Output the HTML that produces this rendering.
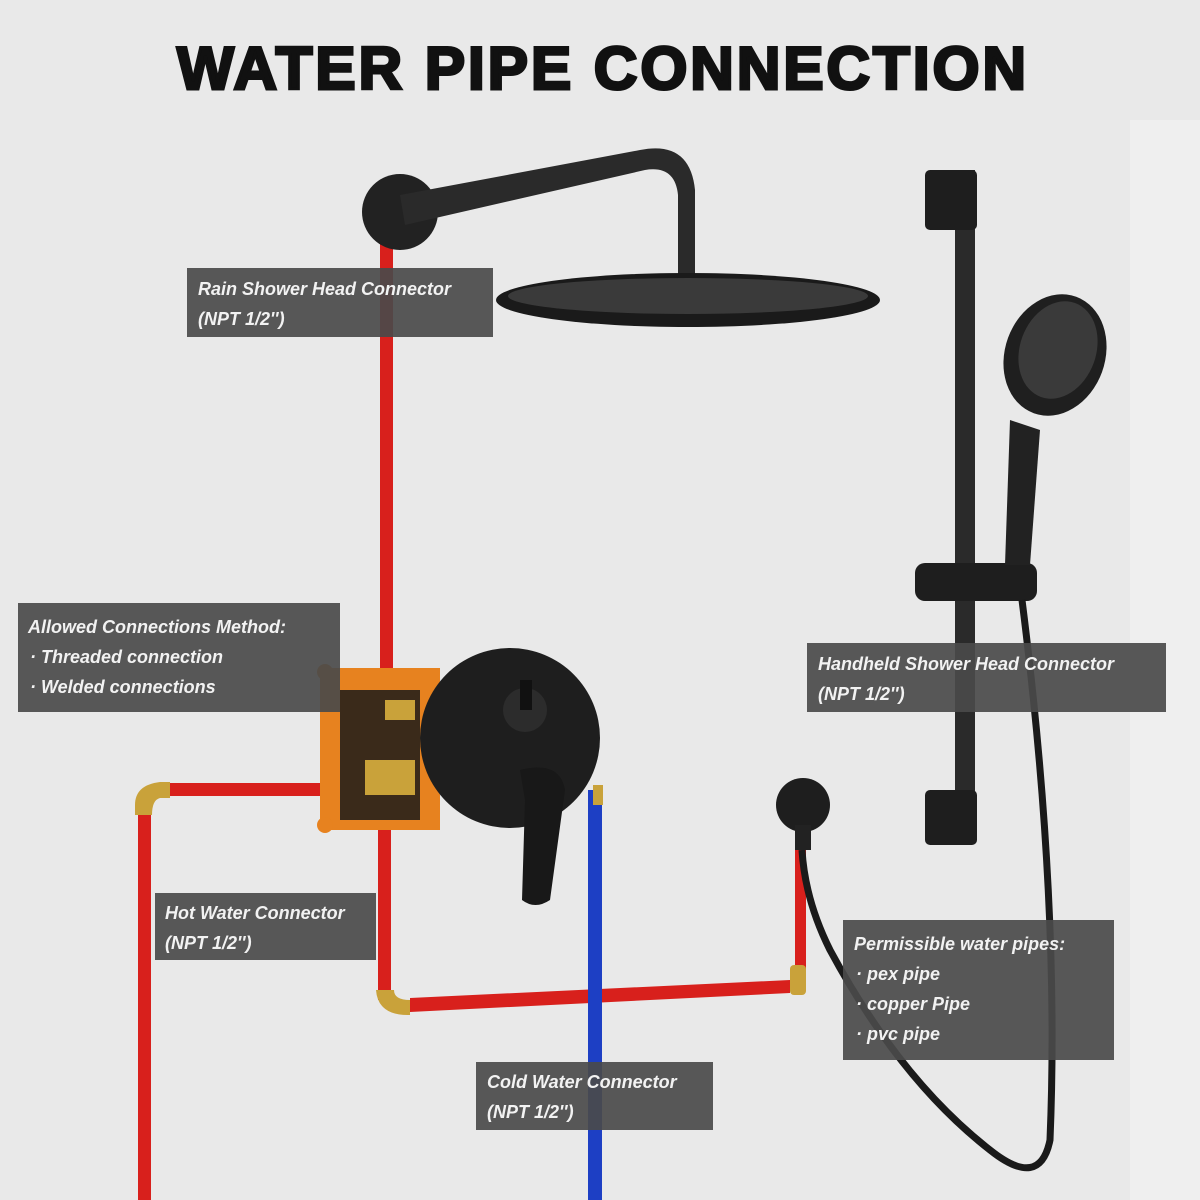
<!DOCTYPE html>
<html><head><meta charset="utf-8"><style>
body{margin:0;background:#e9e9e9;}
svg{display:block}
.t{font-family:"Liberation Sans",sans-serif;font-style:italic;font-weight:bold;font-size:18px;fill:#f2f2f2}
</style></head><body>
<svg width="1200" height="1200" viewBox="0 0 1200 1200">
<rect width="1200" height="1200" fill="#e9e9e9"/>
<rect x="1130" y="120" width="70" height="1080" fill="#efefef"/>
<text x="603" y="89" text-anchor="middle" font-family="Liberation Sans,sans-serif" font-weight="bold" font-size="60" letter-spacing="3" fill="#111" stroke="#111" stroke-width="3" textLength="852" lengthAdjust="spacingAndGlyphs">WATER PIPE CONNECTION</text>
<!-- red pipes -->
<g fill="#d8201c">
<rect x="380" y="240" width="13" height="440"/>
<rect x="378" y="830" width="13" height="170"/>
<rect x="165" y="783" width="160" height="13"/>
<rect x="138" y="815" width="13" height="385"/>
<rect x="795" y="845" width="11" height="130"/>
<polygon points="410,998 790,980 790,993 410,1012"/>
</g>
<rect x="588" y="790" width="14" height="410" fill="#1d3fc4"/>
<!-- brass elbows -->
<g fill="#c9a23a">
<path d="M135 805 Q135 785 160 782 L170 782 L170 798 L160 798 Q152 800 152 815 L135 815Z"/>
<path d="M376 990 L394 990 Q394 1000 410 1000 L410 1015 Q378 1016 376 990Z"/>
<rect x="790" y="965" width="16" height="30" rx="4"/>
<rect x="593" y="785" width="10" height="20"/>
</g>
<!-- valve box -->
<rect x="320" y="668" width="120" height="162" fill="#e7821f"/>
<rect x="340" y="690" width="80" height="130" fill="#3a2a1a"/>
<rect x="385" y="700" width="30" height="20" fill="#c9a23a"/>
<rect x="365" y="760" width="50" height="35" fill="#c9a23a"/>
<circle cx="325" cy="672" r="8" fill="#e7821f"/><circle cx="325" cy="825" r="8" fill="#e7821f"/>
<!-- trim -->
<circle cx="510" cy="738" r="90" fill="#1e1e1e"/>
<circle cx="525" cy="710" r="22" fill="#2c2c2c"/>
<rect x="520" y="680" width="12" height="30" fill="#111"/>
<path d="M520 770 Q560 760 565 790 L550 900 Q535 910 522 900 L525 800Z" fill="#181818"/>
<!-- rain shower -->
<circle cx="400" cy="212" r="38" fill="#222"/>
<path d="M400 195 L640 150 Q690 140 695 190 L695 285 L678 285 L678 195 Q675 165 645 170 L405 225Z" fill="#2a2a2a"/>
<ellipse cx="688" cy="300" rx="192" ry="27" fill="#1a1a1a"/>
<ellipse cx="688" cy="296" rx="180" ry="18" fill="#3a3a3a"/>
<!-- slide bar -->
<rect x="955" y="170" width="20" height="670" fill="#2a2a2a"/>
<rect x="925" y="170" width="52" height="60" rx="5" fill="#1e1e1e"/>
<rect x="925" y="790" width="52" height="55" rx="5" fill="#1e1e1e"/>
<rect x="915" y="563" width="122" height="38" rx="10" fill="#1e1e1e"/>
<!-- handheld -->
<path d="M1010 420 L1040 430 L1030 565 L1005 565Z" fill="#222"/>
<ellipse cx="1055" cy="355" rx="50" ry="62" transform="rotate(20 1055 355)" fill="#1f1f1f"/>
<ellipse cx="1058" cy="350" rx="38" ry="50" transform="rotate(20 1058 350)" fill="#3a3a3a"/>
<!-- hose -->
<path d="M1022 600 Q1060 900 1050 1140 Q1040 1190 990 1150 Q900 1080 830 950 Q805 900 802 850" fill="none" stroke="#1a1a1a" stroke-width="7"/>
<circle cx="803" cy="805" r="27" fill="#1e1e1e"/>
<rect x="795" y="825" width="16" height="25" fill="#222"/>
<!-- labels -->
<g fill="#4a4a4a" fill-opacity="0.92">
<rect x="187" y="268" width="306" height="69"/>
<rect x="18" y="603" width="322" height="109"/>
<rect x="807" y="643" width="359" height="69"/>
<rect x="155" y="893" width="221" height="67"/>
<rect x="843" y="920" width="271" height="140"/>
<rect x="476" y="1062" width="237" height="68"/>
</g>
<text class="t" x="198" y="295">Rain Shower Head Connector</text>
<text class="t" x="198" y="325">(NPT 1/2'')</text>
<text class="t" x="28" y="633">Allowed Connections Method:</text>
<text class="t" x="30" y="663">· Threaded connection</text>
<text class="t" x="30" y="693">· Welded connections</text>
<text class="t" x="818" y="670">Handheld Shower Head Connector</text>
<text class="t" x="818" y="700">(NPT 1/2'')</text>
<text class="t" x="165" y="919">Hot Water Connector</text>
<text class="t" x="165" y="949">(NPT 1/2'')</text>
<text class="t" x="854" y="950">Permissible water pipes:</text>
<text class="t" x="856" y="980">· pex pipe</text>
<text class="t" x="856" y="1010">· copper Pipe</text>
<text class="t" x="856" y="1040">· pvc pipe</text>
<text class="t" x="487" y="1088">Cold Water Connector</text>
<text class="t" x="487" y="1118">(NPT 1/2'')</text>
</svg>
</body></html>
